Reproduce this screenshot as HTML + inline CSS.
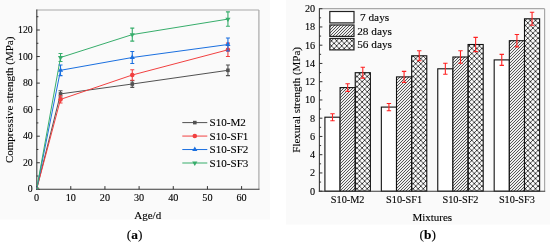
<!DOCTYPE html>
<html><head><meta charset="utf-8"><style>
html,body{margin:0;padding:0;background:#fff;width:550px;height:246px;overflow:hidden}
svg{display:block;font-family:"Liberation Serif", serif;will-change:transform}
text{stroke:#111;stroke-width:0.12px;paint-order:stroke}
</style></head><body>
<svg width="550" height="246" viewBox="0 0 550 246" >
<rect x="0" y="0" width="270" height="219.5" fill="#fafafa"/>
<rect x="286" y="0" width="264" height="224.5" fill="#fafafa"/>
<line x1="36.6" y1="10.0" x2="258.9" y2="10.0" stroke="#a8a8a8" stroke-width="1.2"/>
<line x1="258.9" y1="10.0" x2="258.9" y2="189.3" stroke="#a8a8a8" stroke-width="1.2"/>
<line x1="36.800000000000004" y1="9.5" x2="36.800000000000004" y2="189.9" stroke="#3a3a3a" stroke-width="1.1"/>
<line x1="36.0" y1="189.3" x2="259.5" y2="189.3" stroke="#3a3a3a" stroke-width="1.1"/>
<line x1="36.6" y1="189.30" x2="39.800000000000004" y2="189.30" stroke="#333" stroke-width="1"/>
<text x="32.7" y="192.30" text-anchor="end" font-size="9.8" fill="#000">0</text>
<line x1="36.6" y1="176.03" x2="38.4" y2="176.03" stroke="#333" stroke-width="1"/>
<line x1="36.6" y1="162.75" x2="39.800000000000004" y2="162.75" stroke="#333" stroke-width="1"/>
<text x="32.7" y="165.75" text-anchor="end" font-size="9.8" fill="#000">20</text>
<line x1="36.6" y1="149.48" x2="38.4" y2="149.48" stroke="#333" stroke-width="1"/>
<line x1="36.6" y1="136.20" x2="39.800000000000004" y2="136.20" stroke="#333" stroke-width="1"/>
<text x="32.7" y="139.20" text-anchor="end" font-size="9.8" fill="#000">40</text>
<line x1="36.6" y1="122.92" x2="38.4" y2="122.92" stroke="#333" stroke-width="1"/>
<line x1="36.6" y1="109.65" x2="39.800000000000004" y2="109.65" stroke="#333" stroke-width="1"/>
<text x="32.7" y="112.65" text-anchor="end" font-size="9.8" fill="#000">60</text>
<line x1="36.6" y1="96.38" x2="38.4" y2="96.38" stroke="#333" stroke-width="1"/>
<line x1="36.6" y1="83.10" x2="39.800000000000004" y2="83.10" stroke="#333" stroke-width="1"/>
<text x="32.7" y="86.10" text-anchor="end" font-size="9.8" fill="#000">80</text>
<line x1="36.6" y1="69.83" x2="38.4" y2="69.83" stroke="#333" stroke-width="1"/>
<line x1="36.6" y1="56.55" x2="39.800000000000004" y2="56.55" stroke="#333" stroke-width="1"/>
<text x="32.7" y="59.55" text-anchor="end" font-size="9.8" fill="#000">100</text>
<line x1="36.6" y1="43.28" x2="38.4" y2="43.28" stroke="#333" stroke-width="1"/>
<line x1="36.6" y1="30.00" x2="39.800000000000004" y2="30.00" stroke="#333" stroke-width="1"/>
<text x="32.7" y="33.00" text-anchor="end" font-size="9.8" fill="#000">120</text>
<line x1="36.6" y1="16.73" x2="38.4" y2="16.73" stroke="#333" stroke-width="1"/>
<line x1="36.60" y1="189.3" x2="36.60" y2="186.10000000000002" stroke="#333" stroke-width="1"/>
<text x="36.60" y="201.20" text-anchor="middle" font-size="10.2" fill="#000">0</text>
<line x1="70.77" y1="189.3" x2="70.77" y2="186.10000000000002" stroke="#333" stroke-width="1"/>
<text x="70.77" y="201.20" text-anchor="middle" font-size="10.2" fill="#000">10</text>
<line x1="104.93" y1="189.3" x2="104.93" y2="186.10000000000002" stroke="#333" stroke-width="1"/>
<text x="104.93" y="201.20" text-anchor="middle" font-size="10.2" fill="#000">20</text>
<line x1="139.10" y1="189.3" x2="139.10" y2="186.10000000000002" stroke="#333" stroke-width="1"/>
<text x="139.10" y="201.20" text-anchor="middle" font-size="10.2" fill="#000">30</text>
<line x1="173.27" y1="189.3" x2="173.27" y2="186.10000000000002" stroke="#333" stroke-width="1"/>
<text x="173.27" y="201.20" text-anchor="middle" font-size="10.2" fill="#000">40</text>
<line x1="207.43" y1="189.3" x2="207.43" y2="186.10000000000002" stroke="#333" stroke-width="1"/>
<text x="207.43" y="201.20" text-anchor="middle" font-size="10.2" fill="#000">50</text>
<line x1="241.60" y1="189.3" x2="241.60" y2="186.10000000000002" stroke="#333" stroke-width="1"/>
<text x="241.60" y="201.20" text-anchor="middle" font-size="10.2" fill="#000">60</text>
<text x="147.7" y="218.5" text-anchor="middle" font-size="11" fill="#000">Age/d</text>
<text transform="translate(13.2,99.85) rotate(-90)" x="0" y="0" text-anchor="middle" font-size="11" fill="#000">Compressive strength (MPa)</text>
<text x="134.6" y="238.9" text-anchor="middle" font-size="13.4" fill="#000">(<tspan font-weight="bold">a</tspan>)</text>
<clipPath id="lclip"><rect x="36.6" y="2.0" width="230.29999999999998" height="187.3"/></clipPath>
<g clip-path="url(#lclip)">
<path d="M36.60,189.30 L60.52,93.90 L132.27,84.00 L227.93,70.30" fill="none" stroke="#515151" stroke-width="1.0"/>
<path d="M36.60,189.30 L60.52,99.40 L132.27,75.00 L227.93,49.80" fill="none" stroke="#F14040" stroke-width="1.0"/>
<path d="M36.60,189.30 L60.52,70.30 L132.27,57.50 L227.93,44.50" fill="none" stroke="#1A6FDF" stroke-width="1.0"/>
<path d="M36.60,189.30 L60.52,57.50 L132.27,34.60 L227.93,19.10" fill="none" stroke="#37AD6B" stroke-width="1.0"/>
<rect x="34.80" y="187.50" width="3.60" height="3.60" fill="#515151"/>
<path d="M60.52,90.80 V97.00 M58.52,90.80 H62.52 M58.52,97.00 H62.52" stroke="#515151" stroke-width="1.1" fill="none"/>
<rect x="58.72" y="92.10" width="3.60" height="3.60" fill="#515151"/>
<path d="M132.27,80.60 V87.40 M130.27,80.60 H134.27 M130.27,87.40 H134.27" stroke="#515151" stroke-width="1.1" fill="none"/>
<rect x="130.47" y="82.20" width="3.60" height="3.60" fill="#515151"/>
<path d="M227.93,65.00 V75.60 M225.93,65.00 H229.93 M225.93,75.60 H229.93" stroke="#515151" stroke-width="1.1" fill="none"/>
<rect x="226.13" y="68.50" width="3.60" height="3.60" fill="#515151"/>
<circle cx="36.60" cy="189.30" r="2.30" fill="#F14040"/>
<path d="M60.52,95.80 V103.00 M58.52,95.80 H62.52 M58.52,103.00 H62.52" stroke="#F14040" stroke-width="1.1" fill="none"/>
<circle cx="60.52" cy="99.40" r="2.30" fill="#F14040"/>
<path d="M132.27,69.80 V80.20 M130.27,69.80 H134.27 M130.27,80.20 H134.27" stroke="#F14040" stroke-width="1.1" fill="none"/>
<circle cx="132.27" cy="75.00" r="2.30" fill="#F14040"/>
<path d="M227.93,43.10 V56.50 M225.93,43.10 H229.93 M225.93,56.50 H229.93" stroke="#F14040" stroke-width="1.1" fill="none"/>
<circle cx="227.93" cy="49.80" r="2.30" fill="#F14040"/>
<path d="M36.60,186.37 L39.20,190.77 L34.00,190.77 Z" fill="#1A6FDF"/>
<path d="M60.52,65.00 V75.60 M58.52,65.00 H62.52 M58.52,75.60 H62.52" stroke="#1A6FDF" stroke-width="1.1" fill="none"/>
<path d="M60.52,67.37 L63.12,71.77 L57.92,71.77 Z" fill="#1A6FDF"/>
<path d="M132.27,51.50 V63.50 M130.27,51.50 H134.27 M130.27,63.50 H134.27" stroke="#1A6FDF" stroke-width="1.1" fill="none"/>
<path d="M132.27,54.57 L134.87,58.97 L129.67,58.97 Z" fill="#1A6FDF"/>
<path d="M227.93,38.00 V51.00 M225.93,38.00 H229.93 M225.93,51.00 H229.93" stroke="#1A6FDF" stroke-width="1.1" fill="none"/>
<path d="M227.93,41.57 L230.53,45.97 L225.33,45.97 Z" fill="#1A6FDF"/>
<path d="M36.60,192.23 L39.20,187.83 L34.00,187.83 Z" fill="#37AD6B"/>
<path d="M60.52,53.50 V61.50 M58.52,53.50 H62.52 M58.52,61.50 H62.52" stroke="#37AD6B" stroke-width="1.1" fill="none"/>
<path d="M60.52,60.43 L63.12,56.03 L57.92,56.03 Z" fill="#37AD6B"/>
<path d="M132.27,28.10 V41.10 M130.27,28.10 H134.27 M130.27,41.10 H134.27" stroke="#37AD6B" stroke-width="1.1" fill="none"/>
<path d="M132.27,37.53 L134.87,33.13 L129.67,33.13 Z" fill="#37AD6B"/>
<path d="M227.93,11.90 V26.30 M225.93,11.90 H229.93 M225.93,26.30 H229.93" stroke="#37AD6B" stroke-width="1.1" fill="none"/>
<path d="M227.93,22.03 L230.53,17.63 L225.33,17.63 Z" fill="#37AD6B"/>
</g>
<line x1="182.3" y1="122.60" x2="207.3" y2="122.60" stroke="#515151" stroke-width="1.0"/>
<rect x="193.00" y="120.80" width="3.60" height="3.60" fill="#515151"/>
<text x="209.5" y="126.30" font-size="11.1" fill="#000">S10-M2</text>
<line x1="182.3" y1="136.07" x2="207.3" y2="136.07" stroke="#F14040" stroke-width="1.0"/>
<circle cx="194.80" cy="136.07" r="2.30" fill="#F14040"/>
<text x="209.5" y="139.77" font-size="11.1" fill="#000">S10-SF1</text>
<line x1="182.3" y1="149.54" x2="207.3" y2="149.54" stroke="#1A6FDF" stroke-width="1.0"/>
<path d="M194.80,146.61 L197.40,151.01 L192.20,151.01 Z" fill="#1A6FDF"/>
<text x="209.5" y="153.24" font-size="11.1" fill="#000">S10-SF2</text>
<line x1="182.3" y1="163.01" x2="207.3" y2="163.01" stroke="#37AD6B" stroke-width="1.0"/>
<path d="M194.80,165.94 L197.40,161.54 L192.20,161.54 Z" fill="#37AD6B"/>
<text x="209.5" y="166.71" font-size="11.1" fill="#000">S10-SF3</text>
<defs>
<pattern id="hatch" patternUnits="userSpaceOnUse" width="3" height="3">
<rect x="0" y="0" width="3" height="3" fill="#eeeeee"/>
<rect x="2" y="0" width="1" height="1" fill="#555555"/><rect x="1" y="1" width="1" height="1" fill="#555555"/><rect x="0" y="2" width="1" height="1" fill="#555555"/>
</pattern>
<pattern id="cross" patternUnits="userSpaceOnUse" width="5.1" height="5.1">
<path d="M0,0 L5.1,5.1 M5.1,0 L0,5.1" stroke="#111" stroke-width="0.75"/>
</pattern>
</defs>
<rect x="324.92" y="117.20" width="15.15" height="74.00" fill="#ffffff" stroke="#111" stroke-width="1.1"/>
<rect x="340.07" y="87.60" width="15.15" height="103.60" fill="url(#hatch)" stroke="#111" stroke-width="1.1"/>
<rect x="355.22" y="72.70" width="15.15" height="118.50" fill="url(#cross)" stroke="#111" stroke-width="1.1"/>
<path d="M332.50,113.70 V120.70 M330.30,113.70 H334.70 M330.30,120.70 H334.70" stroke="#F22" stroke-width="1.1" fill="none"/>
<path d="M347.65,83.80 V91.40 M345.45,83.80 H349.85 M345.45,91.40 H349.85" stroke="#F22" stroke-width="1.1" fill="none"/>
<path d="M362.80,67.30 V78.10 M360.60,67.30 H365.00 M360.60,78.10 H365.00" stroke="#F22" stroke-width="1.1" fill="none"/>
<text x="347.65" y="203.1" text-anchor="middle" font-size="10.3" fill="#000">S10-M2</text>
<rect x="381.34" y="107.10" width="15.15" height="84.10" fill="#ffffff" stroke="#111" stroke-width="1.1"/>
<rect x="396.50" y="76.90" width="15.15" height="114.30" fill="url(#hatch)" stroke="#111" stroke-width="1.1"/>
<rect x="411.64" y="55.80" width="15.15" height="135.40" fill="url(#cross)" stroke="#111" stroke-width="1.1"/>
<path d="M388.92,103.50 V110.70 M386.72,103.50 H391.12 M386.72,110.70 H391.12" stroke="#F22" stroke-width="1.1" fill="none"/>
<path d="M404.07,71.40 V82.40 M401.87,71.40 H406.27 M401.87,82.40 H406.27" stroke="#F22" stroke-width="1.1" fill="none"/>
<path d="M419.22,50.80 V60.80 M417.02,50.80 H421.42 M417.02,60.80 H421.42" stroke="#F22" stroke-width="1.1" fill="none"/>
<text x="404.07" y="203.1" text-anchor="middle" font-size="10.3" fill="#000">S10-SF1</text>
<rect x="437.76" y="68.80" width="15.15" height="122.40" fill="#ffffff" stroke="#111" stroke-width="1.1"/>
<rect x="452.92" y="57.00" width="15.15" height="134.20" fill="url(#hatch)" stroke="#111" stroke-width="1.1"/>
<rect x="468.06" y="44.50" width="15.15" height="146.70" fill="url(#cross)" stroke="#111" stroke-width="1.1"/>
<path d="M445.34,63.30 V74.30 M443.14,63.30 H447.54 M443.14,74.30 H447.54" stroke="#F22" stroke-width="1.1" fill="none"/>
<path d="M460.49,50.70 V63.30 M458.29,50.70 H462.69 M458.29,63.30 H462.69" stroke="#F22" stroke-width="1.1" fill="none"/>
<path d="M475.64,37.40 V51.60 M473.44,37.40 H477.84 M473.44,51.60 H477.84" stroke="#F22" stroke-width="1.1" fill="none"/>
<text x="460.49" y="203.1" text-anchor="middle" font-size="10.3" fill="#000">S10-SF2</text>
<rect x="494.18" y="59.90" width="15.15" height="131.30" fill="#ffffff" stroke="#111" stroke-width="1.1"/>
<rect x="509.33" y="40.70" width="15.15" height="150.50" fill="url(#hatch)" stroke="#111" stroke-width="1.1"/>
<rect x="524.49" y="18.80" width="15.15" height="172.40" fill="url(#cross)" stroke="#111" stroke-width="1.1"/>
<path d="M501.76,54.40 V65.40 M499.56,54.40 H503.96 M499.56,65.40 H503.96" stroke="#F22" stroke-width="1.1" fill="none"/>
<path d="M516.91,34.50 V46.90 M514.71,34.50 H519.11 M514.71,46.90 H519.11" stroke="#F22" stroke-width="1.1" fill="none"/>
<path d="M532.06,12.30 V25.30 M529.86,12.30 H534.26 M529.86,25.30 H534.26" stroke="#F22" stroke-width="1.1" fill="none"/>
<text x="516.91" y="203.1" text-anchor="middle" font-size="10.3" fill="#000">S10-SF3</text>
<line x1="319.4" y1="8.7" x2="544.6" y2="8.7" stroke="#a8a8a8" stroke-width="1.2"/>
<line x1="544.6" y1="8.7" x2="544.6" y2="191.2" stroke="#a8a8a8" stroke-width="1.2"/>
<line x1="319.4" y1="8.2" x2="319.4" y2="191.79999999999998" stroke="#3a3a3a" stroke-width="1.1"/>
<line x1="318.79999999999995" y1="191.2" x2="545.2" y2="191.2" stroke="#3a3a3a" stroke-width="1.1"/>
<line x1="319.4" y1="191.20" x2="322.4" y2="191.20" stroke="#333" stroke-width="1"/>
<text x="315.09999999999997" y="194.60" text-anchor="end" font-size="10.2" fill="#000">0</text>
<line x1="319.4" y1="182.07" x2="321.09999999999997" y2="182.07" stroke="#333" stroke-width="1"/>
<line x1="319.4" y1="172.95" x2="322.4" y2="172.95" stroke="#333" stroke-width="1"/>
<text x="315.09999999999997" y="176.35" text-anchor="end" font-size="10.2" fill="#000">2</text>
<line x1="319.4" y1="163.82" x2="321.09999999999997" y2="163.82" stroke="#333" stroke-width="1"/>
<line x1="319.4" y1="154.70" x2="322.4" y2="154.70" stroke="#333" stroke-width="1"/>
<text x="315.09999999999997" y="158.10" text-anchor="end" font-size="10.2" fill="#000">4</text>
<line x1="319.4" y1="145.57" x2="321.09999999999997" y2="145.57" stroke="#333" stroke-width="1"/>
<line x1="319.4" y1="136.45" x2="322.4" y2="136.45" stroke="#333" stroke-width="1"/>
<text x="315.09999999999997" y="139.85" text-anchor="end" font-size="10.2" fill="#000">6</text>
<line x1="319.4" y1="127.32" x2="321.09999999999997" y2="127.32" stroke="#333" stroke-width="1"/>
<line x1="319.4" y1="118.20" x2="322.4" y2="118.20" stroke="#333" stroke-width="1"/>
<text x="315.09999999999997" y="121.60" text-anchor="end" font-size="10.2" fill="#000">8</text>
<line x1="319.4" y1="109.07" x2="321.09999999999997" y2="109.07" stroke="#333" stroke-width="1"/>
<line x1="319.4" y1="99.95" x2="322.4" y2="99.95" stroke="#333" stroke-width="1"/>
<text x="315.09999999999997" y="103.35" text-anchor="end" font-size="10.2" fill="#000">10</text>
<line x1="319.4" y1="90.82" x2="321.09999999999997" y2="90.82" stroke="#333" stroke-width="1"/>
<line x1="319.4" y1="81.70" x2="322.4" y2="81.70" stroke="#333" stroke-width="1"/>
<text x="315.09999999999997" y="85.10" text-anchor="end" font-size="10.2" fill="#000">12</text>
<line x1="319.4" y1="72.57" x2="321.09999999999997" y2="72.57" stroke="#333" stroke-width="1"/>
<line x1="319.4" y1="63.45" x2="322.4" y2="63.45" stroke="#333" stroke-width="1"/>
<text x="315.09999999999997" y="66.85" text-anchor="end" font-size="10.2" fill="#000">14</text>
<line x1="319.4" y1="54.32" x2="321.09999999999997" y2="54.32" stroke="#333" stroke-width="1"/>
<line x1="319.4" y1="45.20" x2="322.4" y2="45.20" stroke="#333" stroke-width="1"/>
<text x="315.09999999999997" y="48.60" text-anchor="end" font-size="10.2" fill="#000">16</text>
<line x1="319.4" y1="36.07" x2="321.09999999999997" y2="36.07" stroke="#333" stroke-width="1"/>
<line x1="319.4" y1="26.95" x2="322.4" y2="26.95" stroke="#333" stroke-width="1"/>
<text x="315.09999999999997" y="30.35" text-anchor="end" font-size="10.2" fill="#000">18</text>
<line x1="319.4" y1="17.82" x2="321.09999999999997" y2="17.82" stroke="#333" stroke-width="1"/>
<line x1="319.4" y1="8.70" x2="322.4" y2="8.70" stroke="#333" stroke-width="1"/>
<text x="315.09999999999997" y="12.10" text-anchor="end" font-size="10.2" fill="#000">20</text>
<text x="432.3" y="220.8" text-anchor="middle" font-size="11" fill="#000">Mixtures</text>
<text transform="translate(300.2,99.85) rotate(-90)" x="0" y="0" text-anchor="middle" font-size="11" fill="#000">Flexural strength (MPa)</text>
<text x="427.7" y="238.9" text-anchor="middle" font-size="13.4" fill="#000">(<tspan font-weight="bold">b</tspan>)</text>
<rect x="329.8" y="11.50" width="24.2" height="11.4" fill="#ffffff" stroke="#222" stroke-width="1.2"/>
<text x="374.6" y="21.10" text-anchor="middle" font-size="11.3" fill="#000">7 days</text>
<rect x="329.8" y="25.00" width="24.2" height="11.4" fill="url(#hatch)" stroke="#222" stroke-width="1.2"/>
<text x="374.6" y="34.60" text-anchor="middle" font-size="11.3" fill="#000">28 days</text>
<rect x="329.8" y="38.50" width="24.2" height="11.4" fill="url(#cross)" stroke="#222" stroke-width="1.2"/>
<text x="374.6" y="48.10" text-anchor="middle" font-size="11.3" fill="#000">56 days</text>
</svg>
</body></html>
